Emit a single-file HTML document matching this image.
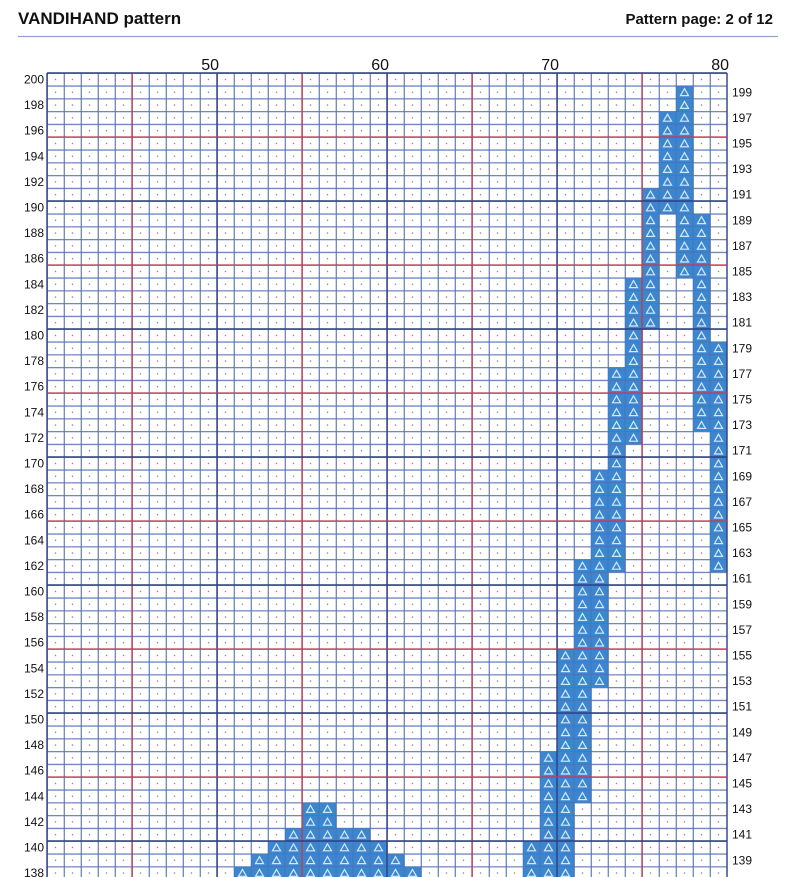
<!DOCTYPE html>
<html><head><meta charset="utf-8">
<style>
html,body{margin:0;padding:0;background:#fff;width:794px;height:877px;overflow:hidden;font-family:"Liberation Sans",Arial,sans-serif;}
svg{position:absolute;left:0;top:0;}
</style></head>
<body>
<svg id="s" width="794" height="877" viewBox="0 0 794 877" xmlns="http://www.w3.org/2000/svg">
<defs>
<pattern id="cell" x="47" y="73" width="17" height="12.8" patternUnits="userSpaceOnUse">
<rect width="17" height="12.8" fill="#fff"/>
<path d="M0 0.4H17M0.4 0V12.8" stroke="#7088bb" stroke-width="1" fill="none"/>
<circle cx="8.5" cy="6.4" r="0.8" fill="#8a8a8a"/>
</pattern>
</defs>
<text x="18" y="24" font-size="17" font-weight="bold" fill="#111">VANDIHAND pattern</text>
<text x="773" y="24" font-size="15" font-weight="bold" fill="#111" text-anchor="end">Pattern page: 2 of 12</text>
<line x1="18" y1="36.5" x2="778" y2="36.5" stroke="#8fa4c8" stroke-width="1.2"/>
<g font-size="16" fill="#111" text-anchor="end">
<text x="219" y="70">50</text><text x="389" y="70">60</text><text x="559" y="70">70</text><text x="729" y="70">80</text>
</g>
<rect x="47" y="73" width="680" height="810" fill="url(#cell)"/>
<g id="fill"></g>
<g id="lines"></g>
<g font-size="12" fill="#111" text-anchor="end" id="ll">
<text x="44" y="83.5">200</text><text x="44" y="109.1">198</text><text x="44" y="134.7">196</text><text x="44" y="160.3">194</text><text x="44" y="185.9">192</text><text x="44" y="211.5">190</text><text x="44" y="237.1">188</text><text x="44" y="262.7">186</text><text x="44" y="288.3">184</text><text x="44" y="313.9">182</text><text x="44" y="339.5">180</text><text x="44" y="365.1">178</text><text x="44" y="390.7">176</text><text x="44" y="416.3">174</text><text x="44" y="441.9">172</text><text x="44" y="467.5">170</text><text x="44" y="493.1">168</text><text x="44" y="518.7">166</text><text x="44" y="544.3">164</text><text x="44" y="569.9">162</text><text x="44" y="595.5">160</text><text x="44" y="621.1">158</text><text x="44" y="646.7">156</text><text x="44" y="672.3">154</text><text x="44" y="697.9">152</text><text x="44" y="723.5">150</text><text x="44" y="749.1">148</text><text x="44" y="774.7">146</text><text x="44" y="800.3">144</text><text x="44" y="825.9">142</text><text x="44" y="851.5">140</text><text x="44" y="877.1">138</text>
</g>
<g font-size="12" fill="#111" id="rl">
<text x="732" y="96.3">199</text><text x="732" y="121.9">197</text><text x="732" y="147.5">195</text><text x="732" y="173.1">193</text><text x="732" y="198.7">191</text><text x="732" y="224.3">189</text><text x="732" y="249.9">187</text><text x="732" y="275.5">185</text><text x="732" y="301.1">183</text><text x="732" y="326.7">181</text><text x="732" y="352.3">179</text><text x="732" y="377.9">177</text><text x="732" y="403.5">175</text><text x="732" y="429.1">173</text><text x="732" y="454.7">171</text><text x="732" y="480.3">169</text><text x="732" y="505.9">167</text><text x="732" y="531.5">165</text><text x="732" y="557.1">163</text><text x="732" y="582.7">161</text><text x="732" y="608.3">159</text><text x="732" y="633.9">157</text><text x="732" y="659.5">155</text><text x="732" y="685.1">153</text><text x="732" y="710.7">151</text><text x="732" y="736.3">149</text><text x="732" y="761.9">147</text><text x="732" y="787.5">145</text><text x="732" y="813.1">143</text><text x="732" y="838.7">141</text><text x="732" y="864.3">139</text>
</g>
</svg>
<script>
(function(){
var NS="http://www.w3.org/2000/svg";
function R(a,b){var r=[];for(var i=a;i<=b;i++)r.push(i);return r;}
var d={};
function set(rows,cols){rows.forEach(function(r){d[r]=(d[r]||[]).concat(cols);});}
set([199,198],[78]);
set(R(192,197),[77,78]);
set([190,191],[76,77,78]);
set(R(185,189),[76,78,79]);
set(R(181,184),[75,76,79]);
set([180],[75,79]);
set([178,179],[75,79,80]);
set(R(173,177),[74,75,79,80]);
set([172],[74,75,80]);
set([170,171],[74,80]);
set(R(163,169),[73,74,80]);
set([162],[72,73,74,80]);
set(R(156,161),[72,73]);
set(R(153,155),[71,72,73]);
set(R(148,152),[71,72]);
set(R(144,147),[70,71,72]);
set(R(141,143),[70,71]);
set(R(138,140),[69,70,71]);
set([142,143],[56,57]);
set([141],R(55,59));
set([140],R(54,60));
set([139],R(53,61));
set([138],R(52,62));
var g=document.getElementById('fill');
var h='';
for(var r in d){d[r].forEach(function(c){
var x=47+(c-41)*17, y=73+(200-r)*12.8;
h+='<rect x="'+x+'" y="'+y+'" width="17" height="12.8" fill="#3b86cf"/>';
var cx=x+8.5, cy=y+6.6;
h+='<polygon points="'+(cx)+','+(cy-3.8)+' '+(cx-4)+','+(cy+3.2)+' '+(cx+4)+','+(cy+3.2)+'" fill="none" stroke="#d6e8f8" stroke-width="1.2"/>';
});}
g.innerHTML=h;
var L='';
// thin lines over fills
for(var i=0;i<=40;i++){var x=47+i*17;L+='<line x1="'+x+'" y1="73" x2="'+x+'" y2="877" stroke="#4f6aa6" stroke-width="0.8" opacity="0.7"/>';}
for(var j=0;j<=63;j++){var y=73+j*12.8;L+='<line x1="47" y1="'+y+'" x2="727" y2="'+y+'" stroke="#4f6aa6" stroke-width="0.8" opacity="0.7"/>';}
// major vertical
for(var i=0;i<=40;i++){var c=41+i-1;var x=47+i*17;
 if(i==0||i==40||(c%10==0))L+='<line x1="'+x+'" y1="73" x2="'+x+'" y2="877" stroke="#2f3f80" stroke-width="1.4"/>';
 else if(c%10==5)L+='<line x1="'+x+'" y1="73" x2="'+x+'" y2="877" stroke="#c8384a" stroke-width="1.3"/>';}
for(var j=0;j<=63;j++){var r=200-j;var y=73+j*12.8;
 if(j==0||(r%10==0))L+='<line x1="47" y1="'+y+'" x2="727" y2="'+y+'" stroke="#2f3f80" stroke-width="1.4"/>';
 else if(r%10==5)L+='<line x1="47" y1="'+y+'" x2="727" y2="'+y+'" stroke="#c8384a" stroke-width="1.3"/>';}
document.getElementById('lines').innerHTML=L;
})();
</script>
</body></html>
